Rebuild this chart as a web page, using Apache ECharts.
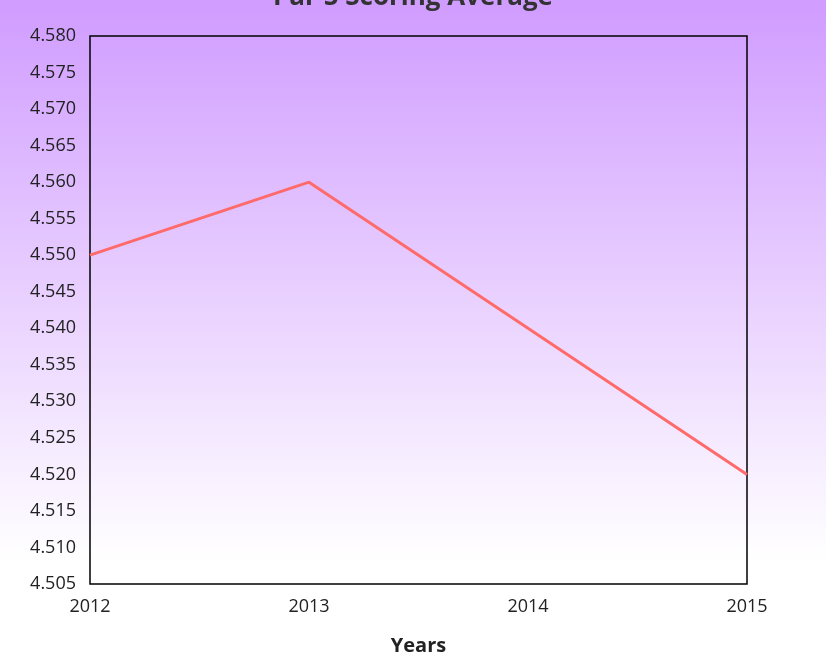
<!DOCTYPE html><html><head><meta charset="utf-8"><script src="https://cdn.jsdelivr.net/npm/echarts@6/dist/echarts.min.js"></script>
<style>html,body{margin:0;padding:0}#c{width:826px;height:661px}</style></head><body><div id="c"></div><script>
const categories=['2012','2013','2014','2015'];
const values=[4.550,4.560,4.540,4.520];
const chart=echarts.init(document.getElementById('c'));
chart.setOption({
 backgroundColor:new echarts.graphic.LinearGradient(0,0,0,1,[{offset:0,color:'#d09cff'},{offset:0.85,color:'#ffffff'},{offset:1,color:'#ffffff'}]),
 title:{text:'Par 5 Scoring Average',left:'center',top:-20,textStyle:{fontFamily:'Open Sans',fontSize:26,fontWeight:'bold',color:'#333'}},
 grid:{left:90,right:79,top:36,bottom:76,show:true,borderColor:'#000',borderWidth:1.5},
 xAxis:{type:'category',data:categories,boundaryGap:false,name:'Years',nameLocation:'middle',nameGap:52,
  nameTextStyle:{fontFamily:'Open Sans',fontSize:20,fontWeight:'bold',color:'#222'},
  axisLine:{show:false},axisTick:{show:false},splitLine:{show:false},
  axisLabel:{fontFamily:'Open Sans',fontSize:18,color:'#222',margin:14}},
 yAxis:{type:'value',min:4.505,max:4.58,interval:0.005,axisLine:{show:false},axisTick:{show:false},splitLine:{show:false},
  axisLabel:{fontFamily:'Open Sans',fontSize:18,color:'#222',margin:14,formatter:v=>v.toFixed(3)}},
 series:[{type:'line',data:values,symbol:'none',lineStyle:{color:'#ff6b6b',width:3}}]
});
</script></body></html>
